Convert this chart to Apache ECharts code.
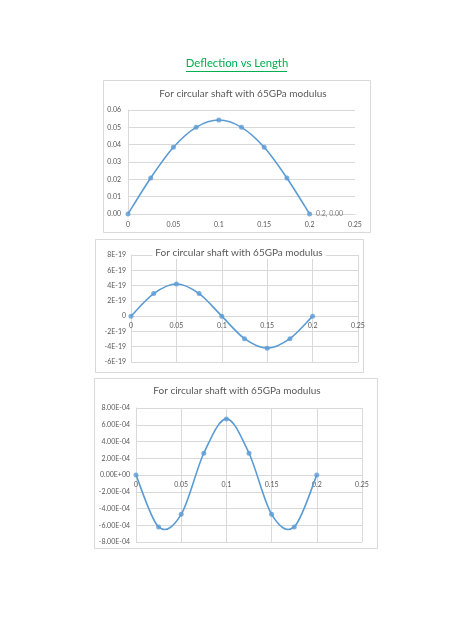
<!DOCTYPE html>
<html><head><meta charset="utf-8">
<script src="https://cdn.jsdelivr.net/npm/echarts@6/dist/echarts.min.js"></script>
<style>html,body{margin:0;padding:0;background:#fff;}#c{width:474px;height:632px;}</style>
</head><body><div id="c"></div>
<script>
const xValues = [0, 0.025, 0.05, 0.075, 0.1, 0.125, 0.15, 0.175, 0.2];
const deflection1 = [0, 0.0208, 0.0385, 0.0500, 0.0542, 0.0500, 0.0385, 0.0208, 0];
const deflection2 = [0, 2.95e-19, 4.2e-19, 2.95e-19, 0, -2.95e-19, -4.2e-19, -2.95e-19, 0];
const deflection3 = [0, -6.2e-4, -4.7e-4, 2.6e-4, 6.7e-4, 2.6e-4, -4.7e-4, -6.2e-4, 0];
const mainTitle = 'Deflection vs Length';
const chartTitle = 'For circular shaft with 65GPa modulus';
const lastPointLabel = '0.2, 0.00';

const FONT = 'Lato';
const GRAY = '#595959';
const GRID = '#d9d9d9';
const BLUE = '#5b9bd5';

function pairs(ys){ return xValues.map((x,i)=>[x, ys[i]]); }

function fmtSci2(v){
  if (Math.abs(v) < 1e-12) return '0.00E+00';
  let e = Math.floor(Math.log10(Math.abs(v)) + 1e-9);
  let m = v / Math.pow(10, e);
  let s = e < 0 ? '-' : '+';
  let a = Math.abs(e);
  return m.toFixed(2) + 'E' + s + (a < 10 ? '0' + a : a);
}
function fmtE19(v){
  if (Math.abs(v) < 1e-25) return '0';
  return Math.round(v / 1e-19) + 'E-19';
}

const axisLabelStyle = {color: GRAY, fontSize: 7, fontFamily: FONT};

function xAxis(idx, vGrid, margin, offset){
  return {
    type: 'value', gridIndex: idx, min: 0, max: 0.25, interval: 0.05,
    position: 'bottom', offset: offset,
    axisLine: {show: true, onZero: false, lineStyle: {color: GRID}},
    axisTick: {show: false},
    splitLine: {show: vGrid, lineStyle: {color: GRID, width: 1}},
    axisLabel: Object.assign({margin: margin}, axisLabelStyle)
  };
}
function yAxis(idx, min, max, interval, fmt, margin){
  return {
    type: 'value', gridIndex: idx, min: min, max: max, interval: interval,
    axisLine: {show: true, onZero: false, lineStyle: {color: GRID}},
    axisTick: {show: false},
    splitLine: {show: true, lineStyle: {color: GRID, width: 1}},
    axisLabel: Object.assign({margin: margin, formatter: fmt}, axisLabelStyle)
  };
}

// smooth curve through the data points (Catmull-Rom style, like the spreadsheet's smoothed line)
function curveSeries(idx, ys){
  const n = xValues.length;
  return {
    type: 'custom', xAxisIndex: idx, yAxisIndex: idx, data: pairs(ys), silent: true,
    clip: false, z: 2,
    renderItem: function(params, api){
      const i = params.dataIndex;
      if (i >= n - 1) return null;
      const P = k => { k = Math.max(0, Math.min(n - 1, k)); return api.coord([xValues[k], ys[k]]); };
      const p0 = P(i - 1), p1 = P(i), p2 = P(i + 1), p3 = P(i + 2);
      return {
        type: 'bezierCurve',
        shape: {
          x1: p1[0], y1: p1[1], x2: p2[0], y2: p2[1],
          cpx1: p1[0] + (p2[0] - p0[0]) / 6, cpy1: p1[1] + (p2[1] - p0[1]) / 6,
          cpx2: p2[0] - (p3[0] - p1[0]) / 6, cpy2: p2[1] - (p3[1] - p1[1]) / 6
        },
        style: {stroke: BLUE, lineWidth: 1.6, fill: null}
      };
    }
  };
}
function pointSeries(idx, ys, extra){
  return Object.assign({
    type: 'scatter', xAxisIndex: idx, yAxisIndex: idx, data: pairs(ys),
    symbol: 'circle', symbolSize: 5, itemStyle: {color: BLUE}, z: 3
  }, extra || {});
}
const titleStyle = {color: GRAY, fontSize: 10, fontFamily: FONT, fontWeight: 'normal'};

const chart = echarts.init(document.getElementById('c'), null, {renderer: 'canvas'});
chart.setOption({
  backgroundColor: '#fff',
  animation: false,
  graphic: [
    {type: 'rect', shape: {x: 103.5, y: 80.5, width: 267, height: 152}, style: {fill: '#fff', stroke: GRID, lineWidth: 1}, z: -10},
    {type: 'rect', shape: {x: 95.5, y: 239.5, width: 268, height: 133}, style: {fill: '#fff', stroke: GRID, lineWidth: 1}, z: -10},
    {type: 'rect', shape: {x: 94.5, y: 378.5, width: 283, height: 170}, style: {fill: '#fff', stroke: GRID, lineWidth: 1}, z: -10},
    {type: 'line', shape: {x1: 186, y1: 71.5, x2: 287, y2: 71.5}, style: {stroke: '#00b050', lineWidth: 1}}
  ],
  title: [
    {text: mainTitle, left: 237, top: 58, textAlign: 'center', padding: 0,
     textStyle: {color: '#00b050', fontSize: 11.3, fontFamily: FONT, fontWeight: 'normal'}},
    {text: chartTitle, left: 243, top: 89, textAlign: 'center', padding: 0, textStyle: titleStyle},
    {text: chartTitle, left: 236, top: 247, textAlign: 'center', textStyle: titleStyle,
     backgroundColor: '#fff', padding: [1, 3]},
    {text: chartTitle, left: 237, top: 386, textAlign: 'center', padding: 0, textStyle: titleStyle}
  ],
  grid: [
    {left: 128, top: 110, width: 227, height: 104},
    {left: 131, top: 255, width: 227, height: 107},
    {left: 136, top: 408, width: 226, height: 134}
  ],
  xAxis: [xAxis(0, false, 7, 0), xAxis(1, true, 6, -107 * 6 / 14), xAxis(2, true, 6, -67)],
  yAxis: [
    yAxis(0, 0, 0.06, 0.01, v => v.toFixed(2), 7),
    yAxis(1, -6e-19, 8e-19, 2e-19, fmtE19, 5),
    yAxis(2, -8e-4, 8e-4, 2e-4, fmtSci2, 6)
  ],
  series: [
    curveSeries(0, deflection1),
    pointSeries(0, deflection1, {
      label: {show: true, position: 'right', distance: 4, color: GRAY, fontSize: 7, fontFamily: FONT,
        formatter: p => p.dataIndex === xValues.length - 1 ? lastPointLabel : ''}
    }),
    curveSeries(1, deflection2),
    pointSeries(1, deflection2),
    curveSeries(2, deflection3),
    pointSeries(2, deflection3)
  ]
});
</script>
</body></html>
